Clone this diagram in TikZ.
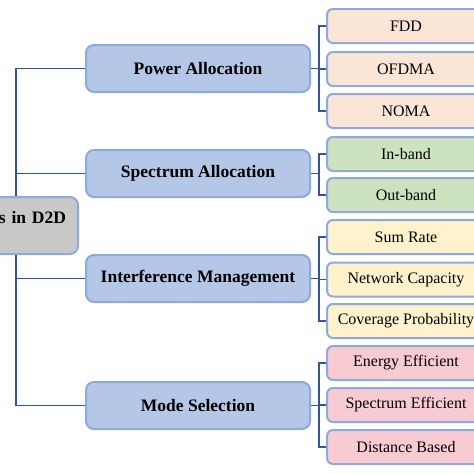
\documentclass[tikz,border=0pt]{standalone}
\usepackage{fontspec}
\setmainfont{Liberation Serif}
\definecolor{edgeblue}{HTML}{34549A}
\definecolor{rimblue}{HTML}{8EA9DB}
\definecolor{mainfill}{HTML}{B4C7E7}
\definecolor{rootfill}{HTML}{C8C8C8}
\definecolor{peach}{HTML}{FBE5D6}
\definecolor{leaf}{HTML}{CDE2BE}
\definecolor{cream}{HTML}{FFF2CC}
\definecolor{rose}{HTML}{F8CBD3}
\begin{document}
\begin{tikzpicture}[
    x=1pt,
    y=-1pt,
    line width=1.8pt,
    link/.style={draw=edgeblue},
    topic/.style={draw=rimblue, line width=2pt, fill=mainfill, rounded corners=8pt,
      minimum width=224pt, minimum height=47pt, font=\fontsize{17.5}{20}\selectfont\bfseries},
    sub/.style={draw=rimblue, line width=2pt, rounded corners=6pt,
      minimum width=158pt, minimum height=34pt, font=\fontsize{16}{18}\selectfont}
]
\useasboundingbox (0,0) rectangle (474,474);
\node[draw=rimblue, line width=2pt, fill=rootfill, rounded corners=8pt,
  minimum width=124pt, minimum height=57pt, text width=100pt, align=right,
  inner xsep=12pt, text depth=17pt, font=\fontsize{17.5}{20}\selectfont\bfseries]
  (cd) at (16,225.5) {s in D2D};
\node[topic] (pa) at (198,68.5) {Power Allocation};
\node[topic] (sa) at (198,173.5) {Spectrum Allocation};
\node[topic] (im) at (198,278.5) {Interference Management};
\node[topic] (ms) at (198,405.5) {Mode Selection};
% second level
\node[sub, fill=peach] (fdd) at (406,26) {FDD};
\node[sub, fill=peach] (ofdma) at (406,69) {OFDMA};
\node[sub, fill=peach] (noma) at (406,111) {NOMA};
\node[sub, fill=leaf] (inb) at (406,154) {In-band};
\node[sub, fill=leaf] (outb) at (406,195) {Out-band};
\node[sub, fill=cream] (sr) at (406,237) {Sum Rate};
\node[sub, fill=cream] (nc) at (406,279.5) {Network Capacity};
\node[sub, fill=cream] (cp) at (406,321) {Coverage Probability};
\node[sub, fill=rose] (ee) at (406,363) {Energy Efficient};
\node[sub, fill=rose] (se) at (406,405) {Spectrum Efficient};
\node[sub, fill=rose] (db) at (406,447) {Distance Based};
% trunk
\draw[link] (pa.west) -| (cd.north);
\draw[link] (sa.west) -| (cd.north);
\draw[link] (im.west) -| (cd.south);
\draw[link] (ms.west) -| (cd.south);
% brackets
\foreach \a/\b in {pa/fdd, pa/ofdma, pa/noma, sa/inb, sa/outb,
  im/sr, im/nc, im/cp, ms/ee, ms/se, ms/db}
  \draw[link] (\a.east) -- ++(8,0) |- (\b.west);
\end{tikzpicture}
\end{document}
